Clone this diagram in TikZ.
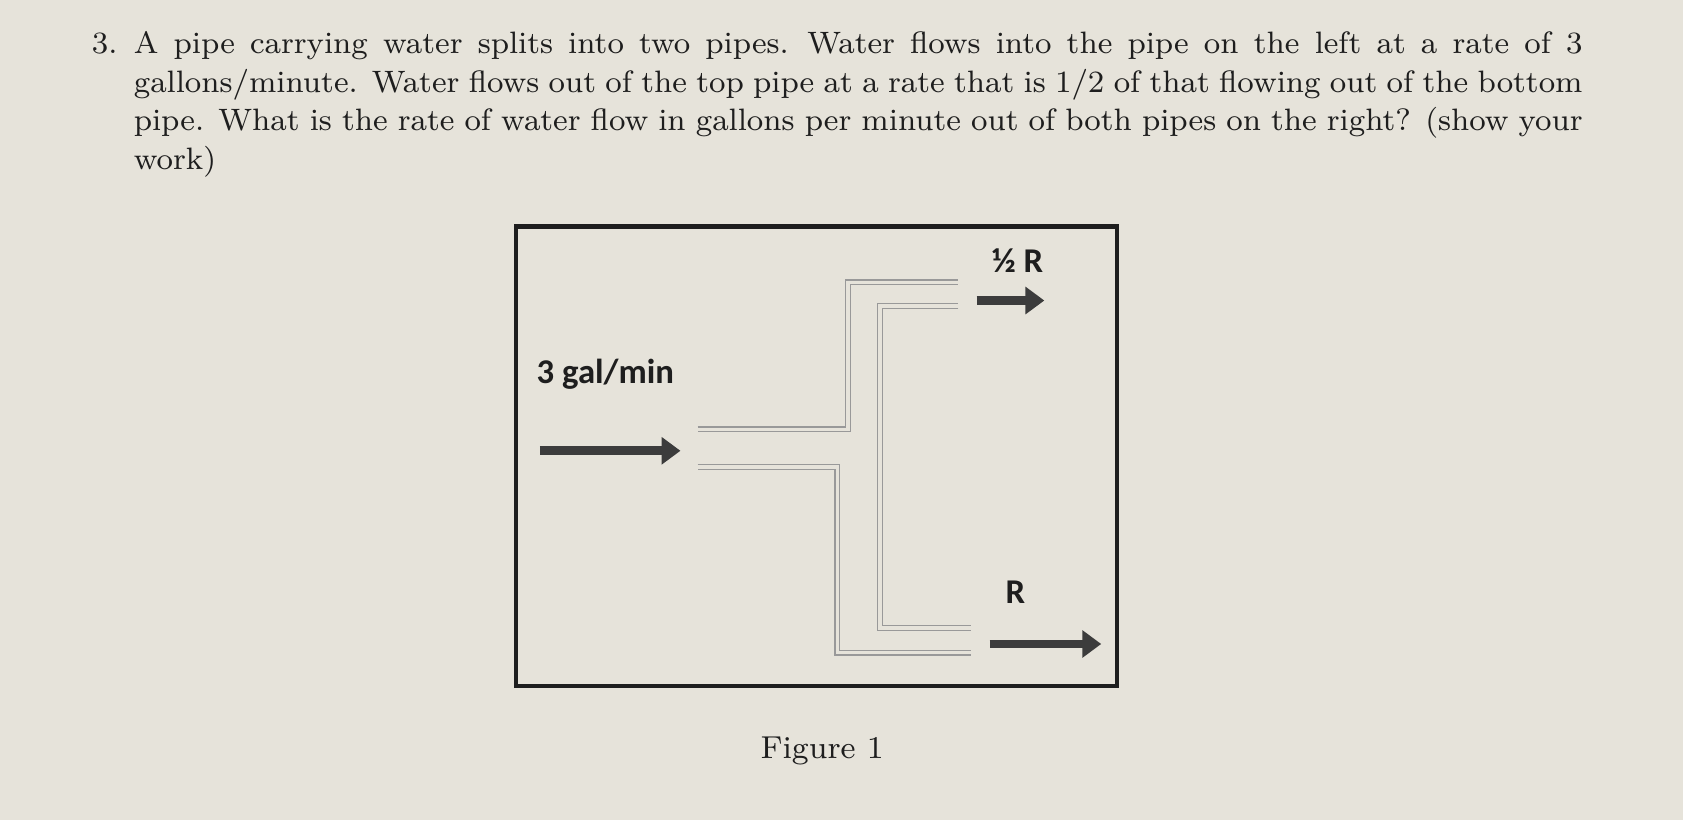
\documentclass[tikz,border=0pt]{standalone}
\usepackage{fontspec}
\newfontfamily\calib{Carlito}
\usetikzlibrary{arrows.meta}
\definecolor{paper}{RGB}{230,227,218}
\definecolor{ink}{RGB}{30,30,30}
\definecolor{arr}{RGB}{60,60,60}
\tikzset{
 qline/.style={anchor=base west,inner sep=0pt,text=ink,font=\fontsize{8.2}{10}\selectfont},
 lab/.style={inner sep=0pt,text=ink,font=\calib\bfseries\fontsize{9.2}{10}\selectfont},
 pipe/.style={draw=gray!80,double=paper,line width=0.35pt,double distance=0.9pt},
 flow/.style={draw=arr,line width=2.3pt,-{Triangle[length=5pt,width=7pt]}}
}
\begin{document}
\begin{tikzpicture}[x=0.01cm,y=-0.01cm]
\fill[paper] (0,0) rectangle (1568,764);
\useasboundingbox (0,0) rectangle (1568,764);
\node[qline] (n3) at (85,50) {3.};
\node[qline] (l1) at (124,50) {\makebox[13.49cm][s]{A pipe carrying water splits into two pipes.\hspace{0.6em}Water flows into the pipe on the left at a rate of 3}};
\node[qline] (l2) at (124,86) {\makebox[13.49cm][s]{gallons/minute. Water flows out of the top pipe at a rate that is 1/2 of that flowing out of the bottom}};
\node[qline] (l3) at (124,122) {\makebox[13.49cm][s]{pipe. What is the rate of water flow in gallons per minute out of both pipes on the right? (show your}};
\node[qline] (l4) at (124,158) {work)};
\draw[ink,line width=1.1pt] (481,211) rectangle (1041,639);
\coordinate (a1) at (650,400); \coordinate (a2) at (790,400); \coordinate (a3) at (790,263); \coordinate (a4) at (893,263);
\coordinate (b1) at (820,585); \coordinate (b2) at (820,285); \coordinate (b3) at (893,285); \coordinate (b4) at (905,585);
\coordinate (c1) at (650,435); \coordinate (c2) at (780,435); \coordinate (c3) at (780,608); \coordinate (c4) at (905,608);
\draw[pipe] (a1)--(a2)--(a3)--(a4);
\draw[pipe] (b3)--(b2)--(b1)--(b4);
\draw[pipe] (c1)--(c2)--(c3)--(c4);
\coordinate (f1) at (503,420); \coordinate (f2) at (634,420);
\coordinate (g1) at (910,280); \coordinate (g2) at (973,280);
\coordinate (h1) at (922,600); \coordinate (h2) at (1026,600);
\draw[flow] (f1)--(f2);
\draw[flow] (g1)--(g2);
\draw[flow] (h1)--(h2);
\node[lab] (half) at (948,243) {½ R};
\node[lab] (gal) at (564,349) {3 gal/min};
\node[lab] (r) at (946,552) {R};
\node[inner sep=0pt,text=ink,font=\fontsize{8.4}{10}\selectfont] (fig) at (766,700) {Figure 1};
\end{tikzpicture}
\end{document}
